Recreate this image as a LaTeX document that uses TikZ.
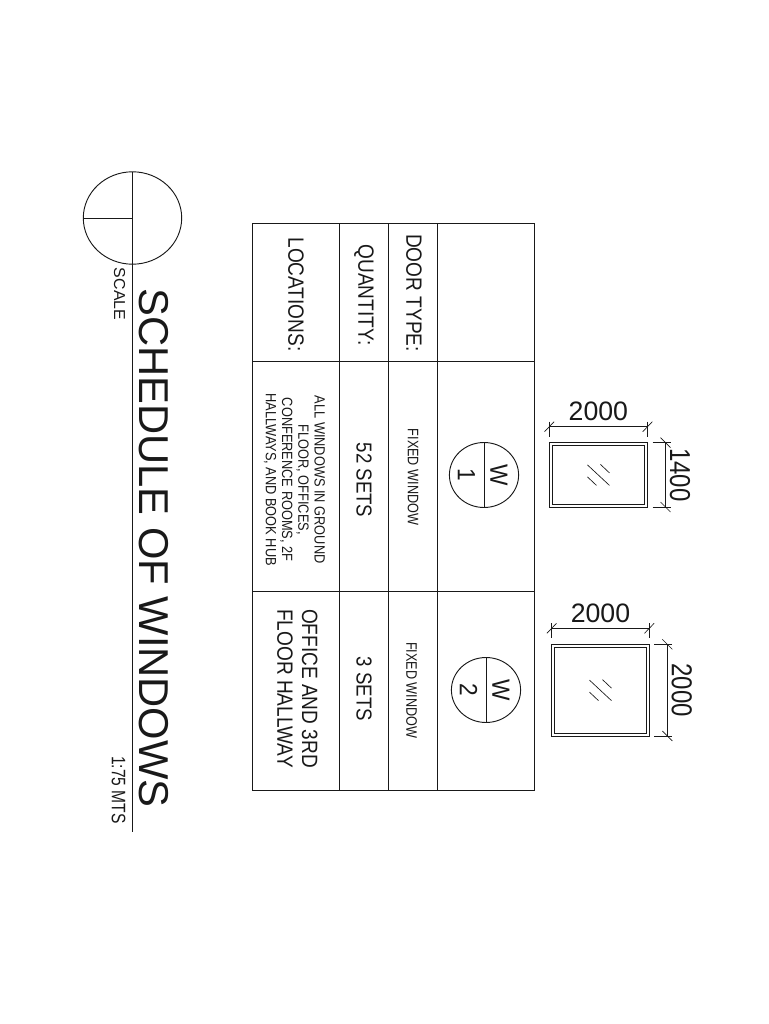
\documentclass[tikz,border=0pt]{standalone}
\usepackage{fontspec}
\setmainfont{Liberation Sans}
\usepackage{tikz}
\usetikzlibrary{calc}

\begin{document}
\begin{tikzpicture}[x=0.75pt, y=-0.75pt,
    drafted/.style={line width=0.7pt, black!90},
    thinline/.style={line width=0.5pt, black!90},
    label/.style={inner sep=0pt, rotate=-90, align=center, black!90},
    tall/.style={label, yscale=#1},
    tall/.default=1.16,
    ]
    \useasboundingbox (0,0) rectangle (768,1024);
    \fill[white] (0,0) rectangle (768,1024);

    % scale mark and title
    \draw[drafted] (132.5,218) ellipse (49.2 and 46.2);
    \draw[drafted] (83.3,218) -- (132.3,218);
    \draw[drafted] (132.3,172) -- (132.3,832);
    \node[label, font=\fontsize{31.3}{34}\selectfont] (title) at (153.5,548) {SCHEDULE OF WINDOWS};
    \node[label, font=\fontsize{11.9}{14}\selectfont] (scale) at (119.5,294) {SCALE};
    \node[tall=1.25, font=\fontsize{11.7}{14}\selectfont] (ratio) at (118.7,790) {1:75 MTS};

    % table
    \draw[drafted] (252,223) rectangle (534.3,790.5);
    \foreach \x in {339.5, 388, 437.5}
        \draw[drafted] (\x,223) -- (\x,790.5);
    \foreach \y in {361, 591}
        \draw[drafted] (252,\y) -- (534.3,\y);

    % row headings
    \foreach \x/\y/\m/\t in {
        414/293/door/{DOOR TYPE:},
        364/295/quantity/{QUANTITY:},
        296/294.5/locations/{LOCATIONS:}}
        \node[tall, font=\fontsize{14.3}{16}\selectfont] (\m) at (\x,\y) {\t};

    % table entries
    \foreach \y/\m/\t in {480/a/{52 SETS}, 689/b/{3 SETS}}
        \node[tall, font=\fontsize{14}{16}\selectfont] (sets\m) at (364,\y) {\t};
    \foreach \x/\y/\m in {413/477/a, 411.5/690.3/b}
        \node[tall=1.2, font=\fontsize{9.5}{11}\selectfont] (type\m) at (\x,\y) {FIXED WINDOW};
    \node[tall, font=\fontsize{9.6}{10.5}\selectfont] (placea) at (294.4,479.7) {ALL WINDOWS IN GROUND\\FLOOR, OFFICES,\\CONFERENCE ROOMS, 2F\\HALLWAYS, AND BOOK HUB};
    \node[tall, font=\fontsize{14.3}{16}\selectfont] (placeb) at (297.3,688.5) {OFFICE AND 3RD\\FLOOR HALLWAY};

    % window tags
    \foreach \x/\y/\m in {484/475/1, 486/690/2} {
        \draw[drafted] (\x,\y) ellipse (34.6 and 32.5);
        \draw[drafted] (\x,\y-32.5) -- (\x,\y+32.5);
        \node[tall=1.1, font=\fontsize{17}{18}\selectfont] (tagw\m) at (\x+15,\y+0.5) {W};
        \node[tall=1.1, font=\fontsize{17}{18}\selectfont] (tagn\m) at (\x-17.5,\y-0.5) {\m};
    }

    % windows: left/top/right/bottom/dimension text
    \foreach \l/\t/\r/\b/\d/\m in {
        549.3/442.7/647.5/507/1400/a,
        551.7/644.3/649.3/736/2000/b} {
        \draw[drafted] (\l,\t) rectangle (\r,\b);
        \draw[thinline] (\l+3,\t+3) rectangle (\r-3,\b-3);
        % glass marks
        \coordinate (glass\m) at ({(\l+\r)/2},{(\t+\b)/2});
        \draw[thinline] ($(glass\m)+(-11,-10)$) -- ($(glass\m)+(11,10.5)$);
        \draw[thinline] ($(glass\m)+(2,-10.5)$) -- ($(glass\m)+(11,-2)$);
        \draw[thinline] ($(glass\m)+(-11,2)$) -- ($(glass\m)+(-2,10.5)$);
        % width dimension
        \draw[thinline] (\l,\t-16) -- (\r,\t-16);
        \draw[thinline] (\l,\t-21) -- (\l,\t-6);
        \draw[thinline] (\r,\t-21) -- (\r,\t-6);
        \draw[thinline] (\l-4.8,\t-11) -- (\l+4.8,\t-21);
        \draw[thinline] (\r-4.8,\t-11) -- (\r+4.8,\t-21);
        \node[inner sep=0pt, black!90, font=\fontsize{20}{24}\selectfont] (width\m) at ({(\l+\r)/2},\t-31) {2000};
        % height dimension
        \draw[thinline] (\r+18.2,\t) -- (\r+18.2,\b);
        \draw[thinline] (\r+5,\t) -- (\r+23,\t);
        \draw[thinline] (\r+5,\b) -- (\r+23,\b);
        \draw[thinline] (\r+13,\t-5) -- (\r+23,\t+5);
        \draw[thinline] (\r+13,\b-5) -- (\r+23,\b+5);
        \node[tall=1.2, font=\fontsize{18}{24}\selectfont] (height\m) at (\r+32.5,{(\t+\b)/2}) {\d};
    }
\end{tikzpicture}
\end{document}
